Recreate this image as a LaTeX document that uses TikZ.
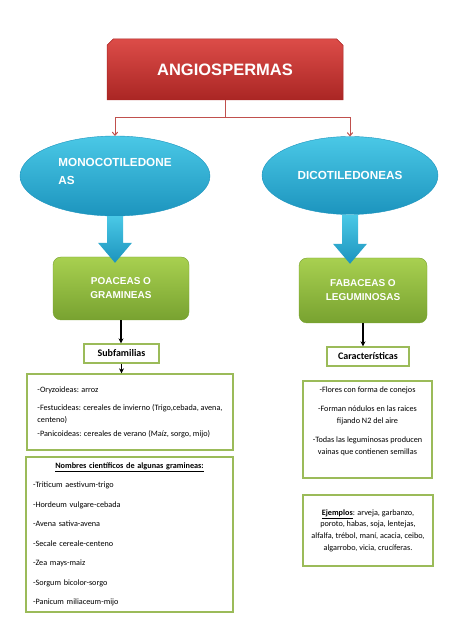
\documentclass[tikz,border=0pt]{standalone}
\usepackage{fontspec}
\setmainfont{Carlito}
\newfontfamily\headfont{Liberation Sans}
\usetikzlibrary{shapes.geometric,shapes.misc,arrows.meta}
\definecolor{angiored}{RGB}{220,76,72}
\definecolor{angiodark}{RGB}{170,38,36}
\definecolor{cotblue}{RGB}{74,200,230}
\definecolor{cotdark}{RGB}{28,148,190}
\definecolor{famgreen}{RGB}{168,208,80}
\definecolor{famdark}{RGB}{120,162,48}
\definecolor{boxolive}{RGB}{155,187,89}
\definecolor{linkred}{RGB}{192,80,77}
\begin{document}
\begin{tikzpicture}[x=1pt,y=1pt,
	rootbox/.style={chamfered rectangle,chamfered rectangle corners={north west,north east},
		chamfered rectangle xsep=3pt,top color=angiored,bottom color=angiodark,draw=angiodark,
		line width=0.5pt,minimum width=236pt,minimum height=61pt,inner sep=0pt,text=white,
		font=\headfont\bfseries\fontsize{16.5}{20}\selectfont},
	cotyl/.style={ellipse,top color=cotblue,bottom color=cotdark,draw=cotdark,line width=0.4pt,
		inner sep=0pt,text=white,font=\headfont\bfseries\fontsize{11.7}{18}\selectfont},
	famname/.style={rectangle,rounded corners=8pt,top color=famgreen,bottom color=famdark,
		draw=famdark,line width=0.4pt,inner sep=0pt,align=center,text=white,
		font=\headfont\bfseries\fontsize{10}{14}\selectfont},
	tagbox/.style={rectangle,draw=boxolive,line width=1.3pt,fill=white,inner sep=0pt,
		minimum height=19pt,font=\bfseries\fontsize{10}{12}\selectfont},
	listbox/.style={rectangle,draw=boxolive,line width=1.3pt,fill=white,inner sep=0pt},
	listtxt/.style={inner sep=0pt,font=\fontsize{8.2}{12}\selectfont},
	blockarrow/.style={top color=cotblue,bottom color=cotdark},
	rootlink/.style={draw=linkred,line width=1pt,-{To[length=4pt,width=6pt]}},
	downlink/.style={draw=black,line width=1.1pt,-{Stealth[length=5pt,width=5pt]}}]
	\useasboundingbox (0,0) rectangle (453,640);
	% top of the map
	\node[rootbox] (angio) at (225,570.5) {ANGIOSPERMAS};
	\node[cotyl,minimum width=190pt,minimum height=80pt,align=left,text depth=9pt] (mono) at (115,464) {MONOCOTILEDONE\\AS};
	\node[cotyl,minimum width=176pt,minimum height=78pt] (dico) at (350,464.5) {DICOTILEDONEAS};
	\draw[rootlink] (angio.south) -- ++(0,-17) -| (mono.north);
	\draw[rootlink] (angio.south) -- ++(0,-17) -| (dico.north);
	% families
	\node[famname,minimum width=136pt,minimum height=63pt] (poac) at (121,351.5) {POACEAS O\\GRAMINEAS};
	\node[famname,minimum width=128pt,minimum height=65pt] (faba) at (363,349.5) {FABACEAS O\\LEGUMINOSAS};
	\coordinate (monotip) at ([yshift=-6pt]mono.south |- poac.north);
	\coordinate (dicotip) at ([yshift=-6pt]dico.south |- faba.north);
	\path[blockarrow] ([xshift=-8pt]mono.south) -- ([xshift=-8pt,yshift=20pt]monotip)
		-- ([xshift=-17pt,yshift=20pt]monotip) -- (monotip) -- ([xshift=17pt,yshift=20pt]monotip)
		-- ([xshift=8pt,yshift=20pt]monotip) -- ([xshift=8pt]mono.south) -- cycle;
	\path[blockarrow] ([xshift=-8pt]dico.south) -- ([xshift=-8pt,yshift=20pt]dicotip)
		-- ([xshift=-17pt,yshift=20pt]dicotip) -- (dicotip) -- ([xshift=17pt,yshift=20pt]dicotip)
		-- ([xshift=8pt,yshift=20pt]dicotip) -- ([xshift=8pt]dico.south) -- cycle;
	% left column
	\node[tagbox,minimum width=75pt] (subf) at (121.5,286.5) {Subfamilias};
	\node[listbox,minimum width=206pt,minimum height=76pt,listtxt,align=left] (oryz) at (130,228)
		{-Oryzoideas: arroz\\[6pt]
		-Festucideas: cereales de invierno (Trigo,cebada, avena,\\
		centeno)\\[2pt]
		-Panicoideas: cereales de verano (Maíz, sorgo, mijo)};
	\node[listbox,minimum width=207pt,minimum height=155pt,inner xsep=7pt,text width=193pt,
		align=left,font=\fontsize{8.2}{19.5}\selectfont] (sci) at (129.5,105.5)
		{{\centering\bfseries\underline{Nombres científicos de algunas gramineas:}\par}
		-Triticum aestivum-trigo\\
		-Hordeum vulgare-cebada\\
		-Avena sativa-avena\\
		-Secale cereale-centeno\\
		-Zea mays-maiz\\
		-Sorgum bicolor-sorgo\\
		-Panicum miliaceum-mijo};
	\draw[downlink] (poac.south) -- (poac.south |- subf.north);
	\draw[downlink] (subf.south) -- (subf.south |- oryz.north);
	% right column
	\node[tagbox,minimum width=82pt] (caract) at (368,283.5) {Características};
	\node[listbox,minimum width=129pt,minimum height=97pt] (charbox) at (367.5,210.5) {};
	\node[listtxt,align=center] (chartxt) at ([yshift=8pt]charbox.center)
		{-Flores con forma de conejos\\[7pt]
		-Forman nódulos en las raices\\
		fijando N2 del aire\\[7pt]
		-Todas las leguminosas producen\\
		vainas que contienen semillas};
	\node[listbox,minimum width=130pt,minimum height=71pt,align=center,
		font=\fontsize{8.2}{11.7}\selectfont] (ejem) at (368,109.5)
		{\textbf{\underline{Ejemplos}}: arveja, garbanzo,\\
		poroto, habas, soja, lentejas,\\
		alfalfa, trébol, maní, acacia, ceibo,\\
		algarrobo, vicia, crucíferas.};
	\draw[downlink] (faba.south) -- (faba.south |- caract.north);
\end{tikzpicture}
\end{document}
